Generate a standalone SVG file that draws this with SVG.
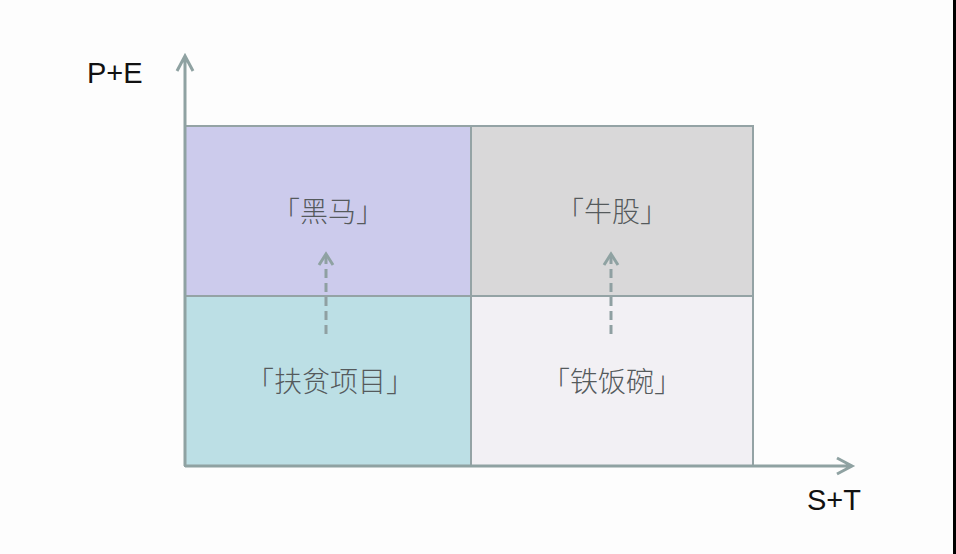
<svg xmlns="http://www.w3.org/2000/svg" width="956" height="554" viewBox="0 0 956 554">
<defs>
<style>
.q{stroke:#94a3a5;stroke-width:2}
.lbl{font-family:"Noto Sans CJK SC","Noto Sans",sans-serif;font-size:28px;fill:#555a5c;text-anchor:middle;font-weight:300}
.ax{font-family:"Liberation Sans",Arial,sans-serif;font-size:29px;fill:#111}
.axis{stroke:#8fa2a2;stroke-width:3;fill:none}
.dash{stroke:#8fa0a2;stroke-width:3;fill:none;stroke-dasharray:9 5}
</style>
</defs>
<rect width="956" height="554" fill="#fdfdfd"/>
<rect x="953" y="0" width="3" height="554" fill="#000"/>
<g id="q-heima"><rect class="q" x="185" y="126" width="286" height="170" fill="#cccbec"/><text class="lbl" x="328" y="222">「黑马」</text></g>
<g id="q-niugu"><rect class="q" x="471" y="126" width="282" height="170" fill="#d9d8d9"/><text class="lbl" x="612" y="222">「牛股」</text></g>
<g id="q-fupin"><rect class="q" x="185" y="296" width="286" height="170" fill="#bcdfe5"/><text class="lbl" x="330" y="392">「扶贫项目」</text></g>
<g id="q-tiefanwan"><rect class="q" x="471" y="296" width="282" height="170" fill="#f2f0f4"/><text class="lbl" x="612" y="392">「铁饭碗」</text></g>
<g id="connectors">
<path class="axis" d="M185 466V56M177 71L185 56L193 71"/>
<path class="axis" d="M185 466H852M837 458L852 466L837 474"/>
<path class="dash" d="M326 334V256"/>
<path class="axis" d="M319 265L326 254L333 265"/>
<path class="dash" d="M611 334V256"/>
<path class="axis" d="M604 265L611 254L618 265"/>
</g>
<text class="ax" x="87" y="83">P+E</text>
<text class="ax" x="807" y="510">S+T</text>
</svg>
